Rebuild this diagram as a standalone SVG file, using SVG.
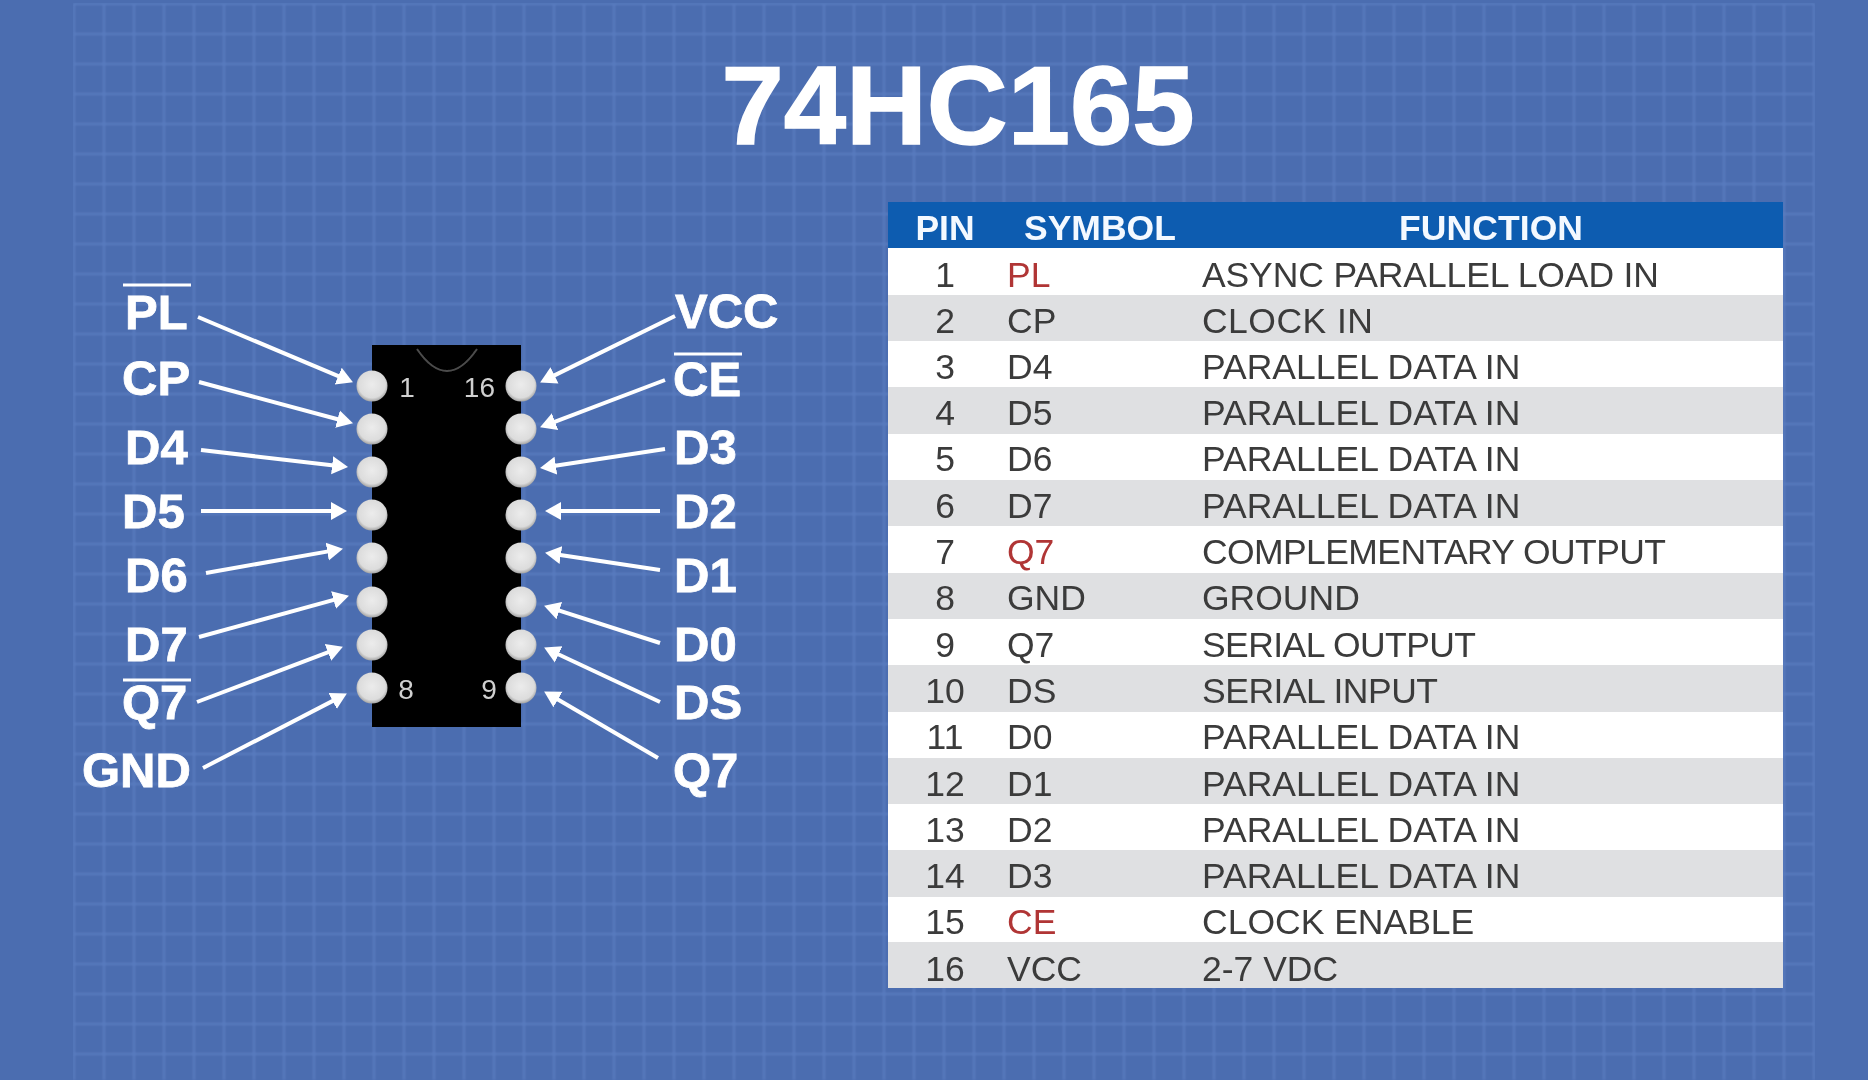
<svg xmlns="http://www.w3.org/2000/svg" width="1868" height="1080" viewBox="0 0 1868 1080">
<style>
text{font-family:"Liberation Sans",Arial,sans-serif}
.lb{font-size:49px;font-weight:700;fill:#fff;stroke:#fff;stroke-width:.8px}
.ov{stroke:#fff;stroke-width:3;fill:none}
.pin{fill:url(#pg)}
.num{font-size:28px;fill:#d0d0d0}
.arr{stroke:#fff;stroke-width:4;fill:none;marker-end:url(#ah)}
.hd{font-size:35.500px;font-weight:700;fill:#f4f9ff}
.c,.s,.f{font-size:35.500px;fill:#3a3a3a}
.r{fill:#b03434}
.w{fill:#fff}
.g{fill:#dfe0e2}
</style>
<defs>
<pattern id="grid" x="73" y="3" width="30" height="30" patternUnits="userSpaceOnUse">
<path d="M1 0V30M0 1H30" stroke="#5a7dc0" stroke-width="2" fill="none"/>
</pattern>
<radialGradient id="pg" cx="50%" cy="45%" r="54%">
<stop offset="0" stop-color="#ececec"/><stop offset=".8" stop-color="#dcdcdc"/><stop offset="1" stop-color="#a8a8a8"/>
</radialGradient>
<marker id="ah" markerUnits="userSpaceOnUse" markerWidth="19" markerHeight="22" viewBox="0 -11 19 22" refX="4" refY="0" orient="auto">
<path d="M0-9L16 0L0 9z" fill="#fff"/>
</marker>
<filter id="soft" x="0" y="0" width="100%" height="100%"><feGaussianBlur stdDeviation="0.600"/></filter>
<filter id="softer" x="0" y="0" width="100%" height="100%"><feGaussianBlur stdDeviation="0.900"/></filter>
</defs>
<rect width="1868" height="1080" fill="#4b6db0"/>
<rect x="73" y="3" width="1742" height="1077" fill="url(#grid)" filter="url(#softer)"/>
<g filter="url(#soft)">
<text id="title" x="958" y="144" text-anchor="middle" font-size="112" font-weight="700" fill="#fff" stroke="#fff" stroke-width="1.500">74HC165</text>

<g id="chip">
<rect x="372" y="345" width="149" height="382" fill="#000"/>
<path d="M417 349Q447 393 477 349" stroke="#4c4c4c" stroke-width="2" fill="none"/>
<text class="num" x="407" y="397" text-anchor="middle">1</text>
<text class="num" x="495" y="397" text-anchor="end">16</text>
<text class="num" x="406" y="699" text-anchor="middle">8</text>
<text class="num" x="489" y="699" text-anchor="middle">9</text>
</g>

<g id="connectors">
<line class="arr" x1="198" y1="317" x2="341.900" y2="377.700"/>
<line class="arr" x1="199" y1="382" x2="341.400" y2="420.200"/>
<line class="arr" x1="201" y1="450" x2="336.100" y2="465.700"/>
<line class="arr" x1="201" y1="511" x2="335" y2="511"/>
<line class="arr" x1="206" y1="573" x2="331.200" y2="550.900"/>
<line class="arr" x1="199" y1="637" x2="337.400" y2="598.900"/>
<line class="arr" x1="197" y1="702" x2="331.700" y2="650.900"/>
<line class="arr" x1="203" y1="768" x2="336.200" y2="699.100"/>
<line class="arr" x1="675" y1="316" x2="550.900" y2="377.100"/>
<line class="arr" x1="665" y1="380" x2="551.300" y2="423.100"/>
<line class="arr" x1="665" y1="449" x2="551.900" y2="466.300"/>
<line class="arr" x1="660" y1="511" x2="557" y2="511"/>
<line class="arr" x1="660" y1="570" x2="556.900" y2="554.600"/>
<line class="arr" x1="660" y1="643" x2="555.500" y2="609.400"/>
<line class="arr" x1="660" y1="702" x2="555" y2="652.700"/>
<line class="arr" x1="658" y1="758" x2="554.500" y2="697.500"/>
</g>

<g id="pin1"><circle class="pin" cx="372" cy="386" r="15.500"/><text class="lb" x="125" y="329">PL</text><line class="ov" x1="123" y1="285" x2="191" y2="285"/></g>
<g id="pin2"><circle class="pin" cx="372" cy="429" r="15.500"/><text class="lb" x="122" y="395">CP</text></g>
<g id="pin3"><circle class="pin" cx="372" cy="472" r="15.500"/><text class="lb" x="125" y="464">D4</text></g>
<g id="pin4"><circle class="pin" cx="372" cy="515" r="15.500"/><text class="lb" x="122" y="528">D5</text></g>
<g id="pin5"><circle class="pin" cx="372" cy="558" r="15.500"/><text class="lb" x="125" y="592">D6</text></g>
<g id="pin6"><circle class="pin" cx="372" cy="602" r="15.500"/><text class="lb" x="125" y="661">D7</text></g>
<g id="pin7"><circle class="pin" cx="372" cy="645" r="15.500"/><text class="lb" x="122" y="719">Q7</text><line class="ov" x1="123" y1="680" x2="191" y2="680"/></g>
<g id="pin8"><circle class="pin" cx="372" cy="688" r="15.500"/><text class="lb" x="82" y="787">GND</text></g>
<g id="pin16"><circle class="pin" cx="521" cy="386" r="15.500"/><text class="lb" x="675" y="328">VCC</text></g>
<g id="pin15"><circle class="pin" cx="521" cy="429" r="15.500"/><text class="lb" x="673" y="396">CE</text><line class="ov" x1="674" y1="354" x2="742" y2="354"/></g>
<g id="pin14"><circle class="pin" cx="521" cy="472" r="15.500"/><text class="lb" x="674" y="464">D3</text></g>
<g id="pin13"><circle class="pin" cx="521" cy="515" r="15.500"/><text class="lb" x="674" y="528">D2</text></g>
<g id="pin12"><circle class="pin" cx="521" cy="558" r="15.500"/><text class="lb" x="674" y="592">D1</text></g>
<g id="pin11"><circle class="pin" cx="521" cy="602" r="15.500"/><text class="lb" x="674" y="661">D0</text></g>
<g id="pin10"><circle class="pin" cx="521" cy="645" r="15.500"/><text class="lb" x="674" y="719">DS</text></g>
<g id="pin9"><circle class="pin" cx="521" cy="688" r="15.500"/><text class="lb" x="673" y="787">Q7</text></g>

<g id="table">
<rect x="888" y="202" width="895" height="46" fill="#0f5cb0"/>
<text class="hd" x="945" y="240" text-anchor="middle">PIN</text>
<text class="hd" x="1024" y="240">SYMBOL</text>
<text class="hd" x="1399" y="240" textLength="184" lengthAdjust="spacing">FUNCTION</text>
<rect class="w" x="888" y="248" width="895" height="47"/>
<rect class="g" x="888" y="295" width="895" height="46"/>
<rect class="w" x="888" y="341" width="895" height="46"/>
<rect class="g" x="888" y="387" width="895" height="47"/>
<rect class="w" x="888" y="434" width="895" height="46"/>
<rect class="g" x="888" y="480" width="895" height="46"/>
<rect class="w" x="888" y="526" width="895" height="47"/>
<rect class="g" x="888" y="573" width="895" height="46"/>
<rect class="w" x="888" y="619" width="895" height="46"/>
<rect class="g" x="888" y="665" width="895" height="47"/>
<rect class="w" x="888" y="712" width="895" height="46"/>
<rect class="g" x="888" y="758" width="895" height="46"/>
<rect class="w" x="888" y="804" width="895" height="46"/>
<rect class="g" x="888" y="850" width="895" height="47"/>
<rect class="w" x="888" y="897" width="895" height="45"/>
<rect class="g" x="888" y="942" width="895" height="46"/>
<text class="c" x="945" y="287" text-anchor="middle">1</text><text class="s r" x="1007" y="287">PL</text><text class="f" x="1202" y="287" textLength="457" lengthAdjust="spacing">ASYNC PARALLEL LOAD IN</text>
<text class="c" x="945" y="332.500" text-anchor="middle">2</text><text class="s" x="1007" y="332.500">CP</text><text class="f" x="1202" y="332.500" textLength="171" lengthAdjust="spacing">CLOCK IN</text>
<text class="c" x="945" y="379" text-anchor="middle">3</text><text class="s" x="1007" y="379">D4</text><text class="f" x="1202" y="379">PARALLEL DATA IN</text>
<text class="c" x="945" y="425" text-anchor="middle">4</text><text class="s" x="1007" y="425">D5</text><text class="f" x="1202" y="425">PARALLEL DATA IN</text>
<text class="c" x="945" y="471" text-anchor="middle">5</text><text class="s" x="1007" y="471">D6</text><text class="f" x="1202" y="471">PARALLEL DATA IN</text>
<text class="c" x="945" y="517.500" text-anchor="middle">6</text><text class="s" x="1007" y="517.500">D7</text><text class="f" x="1202" y="517.500">PARALLEL DATA IN</text>
<text class="c" x="945" y="564" text-anchor="middle">7</text><text class="s r" x="1007" y="564">Q7</text><text class="f" x="1202" y="564" textLength="464" lengthAdjust="spacing">COMPLEMENTARY OUTPUT</text>
<text class="c" x="945" y="610" text-anchor="middle">8</text><text class="s" x="1007" y="610">GND</text><text class="f" x="1202" y="610">GROUND</text>
<text class="c" x="945" y="656.500" text-anchor="middle">9</text><text class="s" x="1007" y="656.500">Q7</text><text class="f" x="1202" y="656.500" textLength="274" lengthAdjust="spacing">SERIAL OUTPUT</text>
<text class="c" x="945" y="703" text-anchor="middle">10</text><text class="s" x="1007" y="703">DS</text><text class="f" x="1202" y="703" textLength="236" lengthAdjust="spacing">SERIAL INPUT</text>
<text class="c" x="945" y="749" text-anchor="middle">11</text><text class="s" x="1007" y="749">D0</text><text class="f" x="1202" y="749">PARALLEL DATA IN</text>
<text class="c" x="945" y="795.500" text-anchor="middle">12</text><text class="s" x="1007" y="795.500">D1</text><text class="f" x="1202" y="795.500">PARALLEL DATA IN</text>
<text class="c" x="945" y="842" text-anchor="middle">13</text><text class="s" x="1007" y="842">D2</text><text class="f" x="1202" y="842">PARALLEL DATA IN</text>
<text class="c" x="945" y="888" text-anchor="middle">14</text><text class="s" x="1007" y="888">D3</text><text class="f" x="1202" y="888">PARALLEL DATA IN</text>
<text class="c" x="945" y="934" text-anchor="middle">15</text><text class="s r" x="1007" y="934">CE</text><text class="f" x="1202" y="934">CLOCK ENABLE</text>
<text class="c" x="945" y="980.500" text-anchor="middle">16</text><text class="s" x="1007" y="980.500">VCC</text><text class="f" x="1202" y="980.500">2-7 VDC</text>
</g>
</g>
</svg>
